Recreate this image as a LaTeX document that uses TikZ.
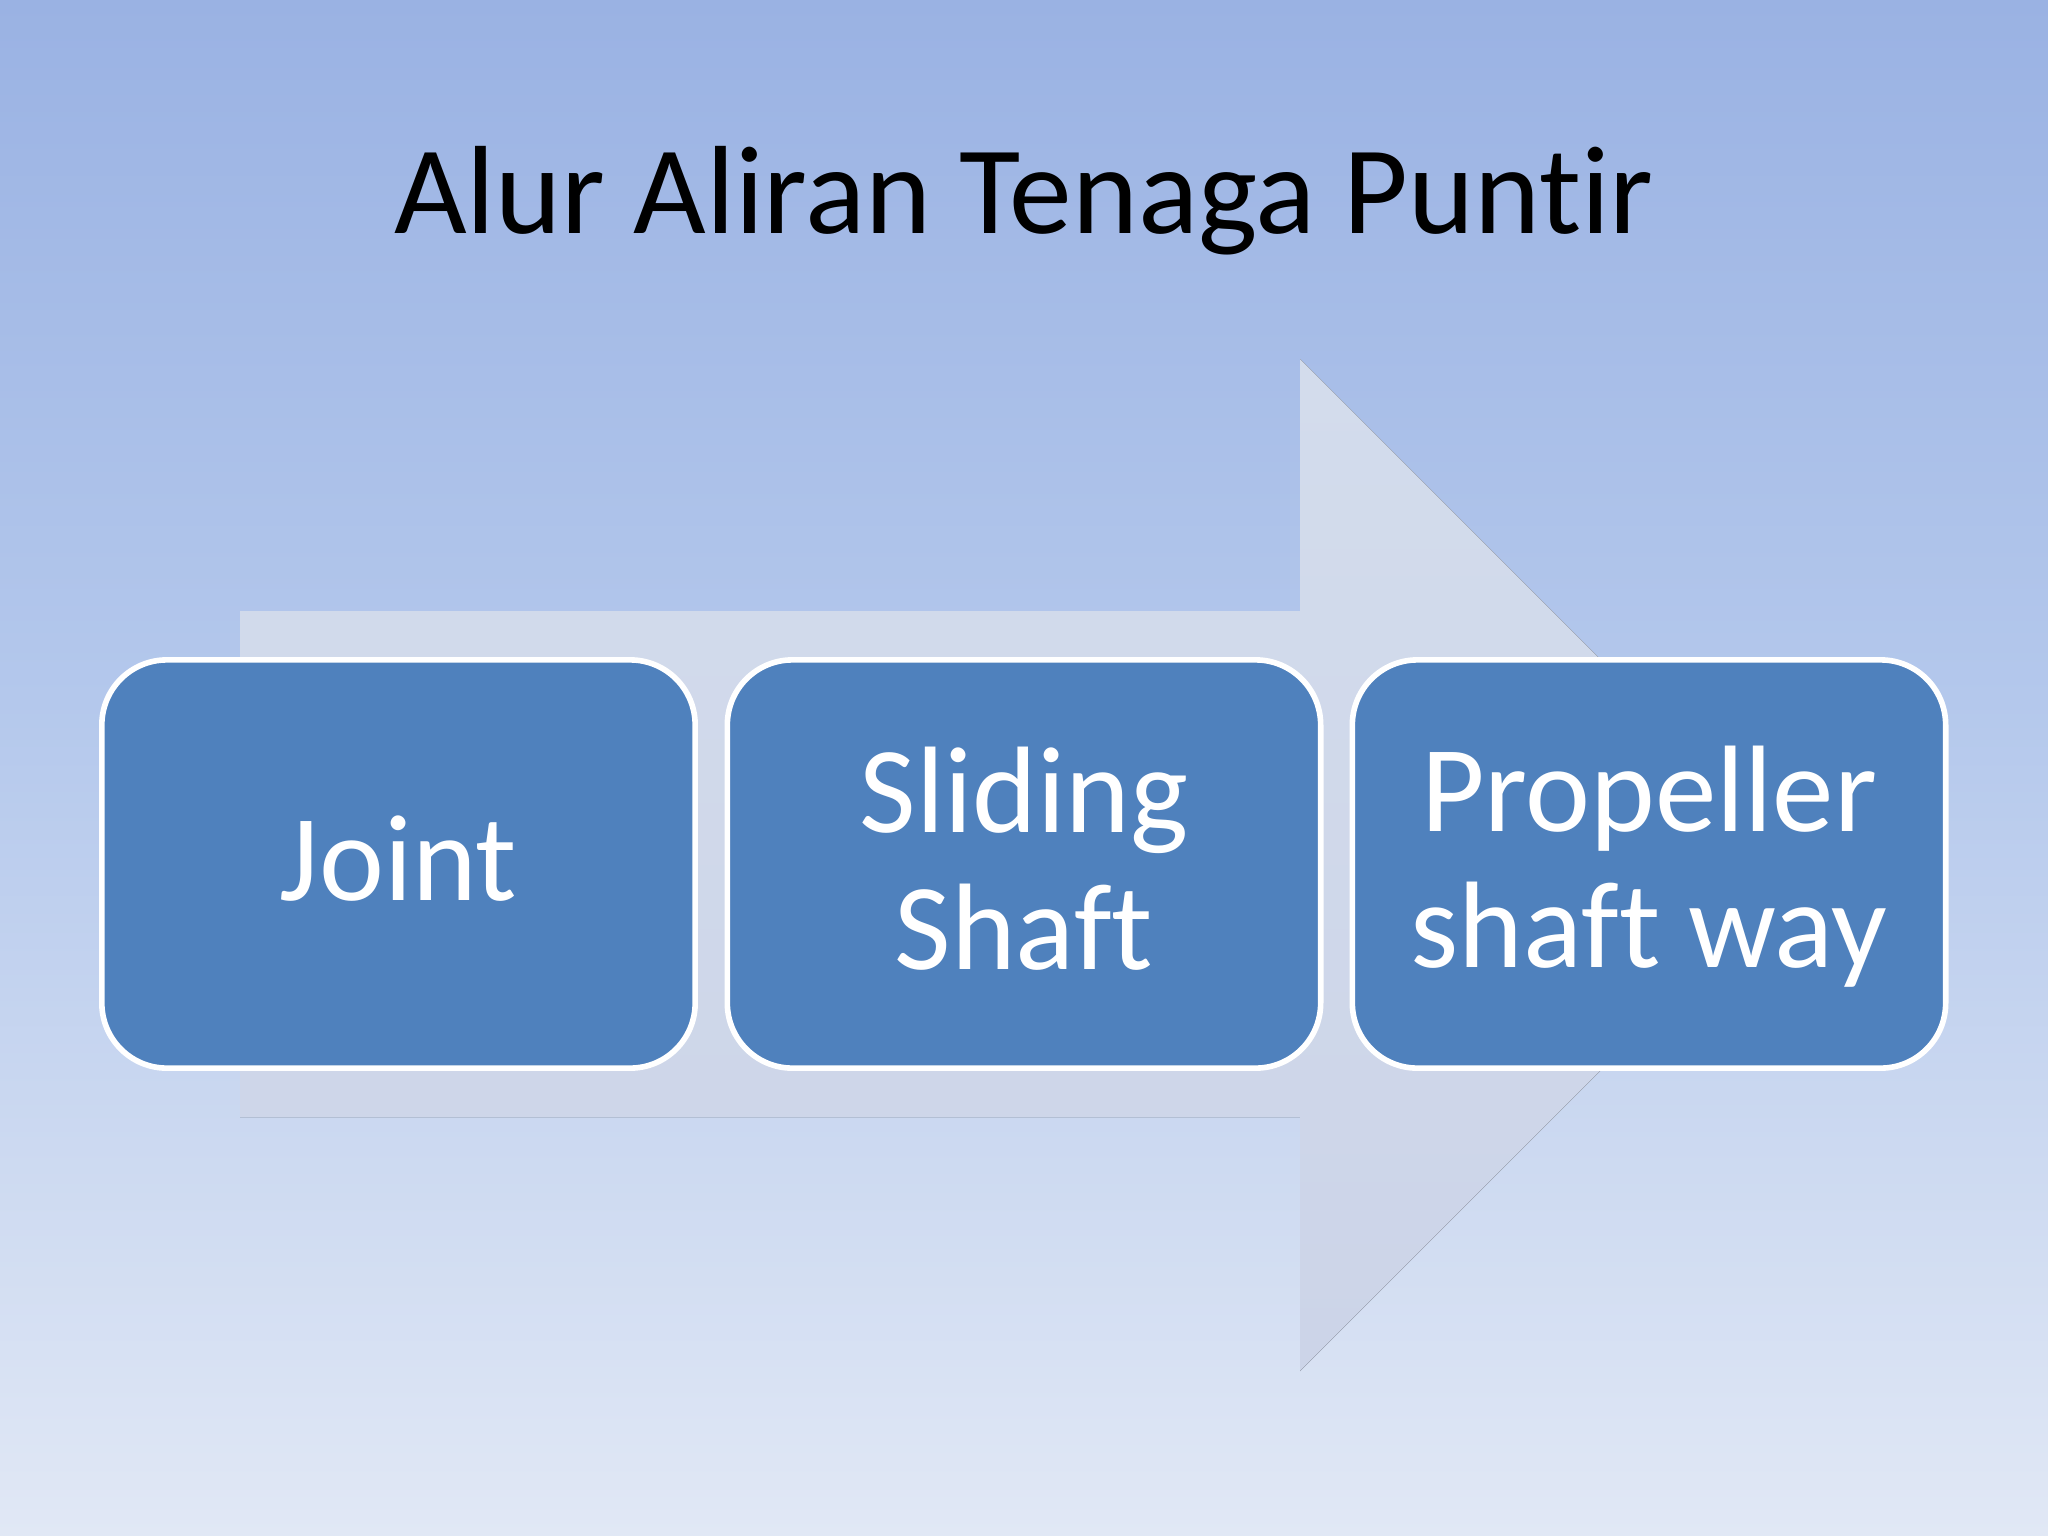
\documentclass[tikz,border=0pt]{standalone}
\usepackage{fontspec}
\setmainfont{Carlito}[Ligatures={NoCommon}]
\definecolor{bgtop}{HTML}{9AB2E3}
\definecolor{bgmid}{HTML}{B4C8EC}
\definecolor{bgbot}{HTML}{E1E8F5}
\definecolor{arrtop}{HTML}{D3DCEC}
\definecolor{arrbot}{HTML}{CCD4E8}
\definecolor{boxblue}{HTML}{4F81BD}
\tikzset{
  stepbox/.style={draw=white, line width=1.6pt, fill=boxblue, rounded corners=0.65cm,
    minimum width=5.93cm, minimum height=4.08cm, inner sep=0pt},
  boxtext/.style={text=white, align=center, font=\fontsize{35}{38.7}\selectfont, inner sep=0pt},
  titletext/.style={font=\fontsize{35.7}{40}\selectfont, text=black, inner sep=0pt}
}
\begin{document}
\begin{tikzpicture}[x=0.01cm,y=-0.01cm]
\useasboundingbox (0,0) rectangle (2048,1536);
\shade[top color=bgtop, bottom color=bgmid, shading angle=0] (0,0) rectangle (2048,700);
\shade[top color=bgmid, bottom color=bgbot] (0,700) rectangle (2048,1536);
\fill[top color=arrtop, bottom color=arrbot] (240,611) -- (1300,611) -- (1300,359) -- (1806,865) -- (1300,1371) -- (1300,1117) -- (240,1117) -- cycle;
\node[titletext] (title) at (1024,201) {Alur Aliran Tenaga Puntir};
\node[stepbox] (b1) at (398.5,864) {};
\node[stepbox] (b2) at (1024,864) {};
\node[stepbox] (b3) at (1649,864) {};
\node[boxtext] (t1) at ([yshift=1.5pt]b1.center) {Joint};
\node[boxtext] (t2) at ([yshift=1.5pt]b2.center) {Sliding\\Shaft};
\node[boxtext] (t3) at ([yshift=-0.7pt]b3.center) {Propeller\\shaft way};
\end{tikzpicture}
\end{document}
